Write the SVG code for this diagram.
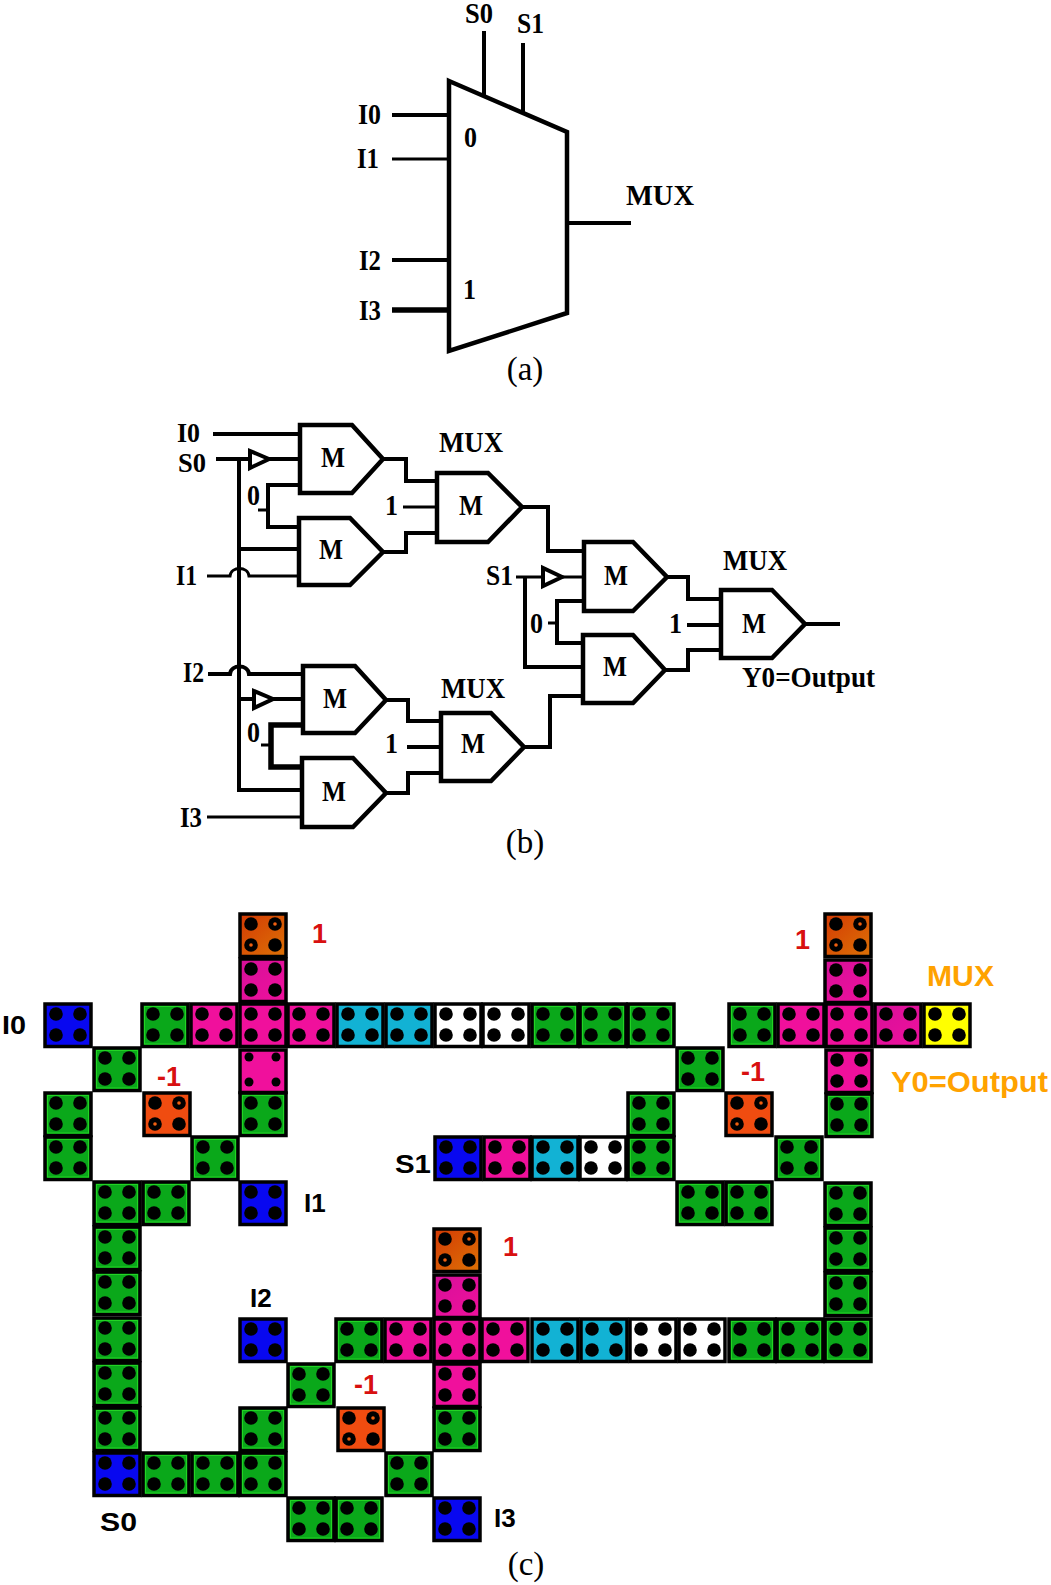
<svg xmlns="http://www.w3.org/2000/svg" width="1051" height="1585" viewBox="0 0 1051 1585">
<style>
text{font-family:"Liberation Serif","Times New Roman",serif;fill:#000}
.b{font-weight:bold;font-size:29px}
.s{font-size:27px}
.m{font-weight:bold;font-size:29px;text-anchor:middle}
.cap{font-size:33px;text-anchor:middle}
.a{font-family:"Liberation Sans",Arial,sans-serif;font-weight:bold;font-size:26px}
.r{font-family:"Liberation Sans",Arial,sans-serif;font-weight:bold;font-size:27px;fill:#d81010}
.o{font-family:"Liberation Sans",Arial,sans-serif;font-weight:bold;font-size:30px;fill:#ffa200}
.w{fill:none;stroke:#000;stroke-width:4;stroke-linecap:butt;stroke-linejoin:miter}
.t{stroke-width:3}.h{stroke-width:5.5}
.g{fill:#fff;stroke:#000;stroke-width:4.5;stroke-linejoin:miter}
.tri{fill:#fff;stroke:#000;stroke-width:4}
.box{stroke:#000;stroke-width:3.5}
</style>
<defs>
<linearGradient id="go" x1="0" y1="0" x2="1" y2="1"><stop offset="0" stop-color="#d43a04"/><stop offset="1" stop-color="#dc7206"/></linearGradient>
<linearGradient id="gm" x1="0" y1="0" x2="1" y2="1"><stop offset="0" stop-color="#d6109a"/><stop offset="1" stop-color="#f0109c"/></linearGradient>
<g id="dots"><circle cx="12" cy="11" r="6.8"/><circle cx="36" cy="11" r="6.8"/><circle cx="12" cy="32" r="6.8"/><circle cx="36" cy="32" r="6.8"/></g>
<g id="dots2"><use href="#dots"/><circle cx="36" cy="11" r="1.8" fill="#f06010"/><circle cx="12" cy="32" r="1.8" fill="#f06010"/></g>
<g id="green"><rect class="box" x="1" y="1" width="46" height="42.5" fill="#0aa81a"/><rect x="3.5" y="3.5" width="41" height="37.5" fill="none" stroke="#22d424" stroke-width="1"/><use href="#dots"/></g>
<g id="blue"><rect class="box" x="1" y="1" width="46" height="42.5" fill="#0808f0"/><use href="#dots"/></g>
<g id="pink"><rect class="box" x="1" y="1" width="46" height="42.5" fill="#f0109c"/><use href="#dots"/></g>
<g id="pinksmall"><rect class="box" x="1" y="1" width="46" height="42.5" fill="#f0109c"/><circle cx="10" cy="8" r="4.5"/><circle cx="37" cy="8" r="4.5"/><circle cx="10" cy="33" r="4.5"/><circle cx="37" cy="33" r="4.5"/></g>
<g id="purple"><rect class="box" x="1" y="1" width="46" height="42.5" fill="url(#gm)"/><use href="#dots"/></g>
<g id="cyan"><rect class="box" x="1" y="1" width="46" height="42.5" fill="#12b2d4"/><use href="#dots"/></g>
<g id="white"><rect class="box" x="1" y="1" width="46" height="42.5" fill="#fff"/><use href="#dots"/></g>
<g id="yellow"><rect class="box" x="1" y="1" width="46" height="42.5" fill="#ffff00"/><use href="#dots"/></g>
<g id="orange"><rect class="box" x="1" y="1" width="46" height="42.5" fill="url(#go)"/><use href="#dots2"/></g>
<g id="orange2"><rect class="box" x="1" y="1" width="46" height="42.5" fill="#f04c10"/><use href="#dots2"/></g>
</defs>

<g id="connectors-a">
<path class="w" d="M484 31V97"/><path class="w" d="M523 43V112"/>
<path class="w" d="M392 115H449"/><path class="w t" d="M392 159H449"/><path class="w" d="M392 260H449"/><path class="w h" d="M392 310H449"/>
<path class="w" d="M567 223H631"/>
</g>
<g id="mux-a"><path d="M449 81L567 132V313L449 351Z" fill="#fff" stroke="#000" stroke-width="4.5"/></g>
<g id="labels-a">
<text class="b" x="465" y="23" textLength="28" lengthAdjust="spacingAndGlyphs">S0</text><text class="b" x="517" y="33" textLength="27" lengthAdjust="spacingAndGlyphs">S1</text>
<text class="b" x="358" y="124" textLength="23" lengthAdjust="spacingAndGlyphs">I0</text><text class="b" x="357" y="168" textLength="22" lengthAdjust="spacingAndGlyphs">I1</text><text class="b" x="359" y="270" textLength="22" lengthAdjust="spacingAndGlyphs">I2</text><text class="b" x="359" y="320" textLength="22" lengthAdjust="spacingAndGlyphs">I3</text>
<text class="b" x="464" y="147" textLength="13" lengthAdjust="spacingAndGlyphs">0</text><text class="b" x="463" y="299" textLength="13" lengthAdjust="spacingAndGlyphs">1</text>
<text class="b" x="626" y="205" textLength="68" lengthAdjust="spacingAndGlyphs">MUX</text>
<text class="cap" x="525" y="380">(a)</text>
</g>

<g id="connectors-b">
<path class="w" d="M213 434H300"/>
<path class="w" d="M216 459H300"/>
<path class="w" d="M239 459V790H302"/>
<path class="w" d="M239 549H299"/>
<path class="w t" d="M207 576H230C231 566 248 566 249 576H299"/>
<path class="w" d="M383 459H406V481H437"/>
<path class="w" d="M383 552H406V533H437"/>
<path class="w t" d="M403 507H437"/>
<path class="w" d="M300 485H268V527H299"/>
<path class="w t" d="M258 510H268"/>
<path class="w" d="M208 674H230C231 664 248 664 249 674H303"/>
<path class="w" d="M239 699H303"/>
<path class="w h" d="M303 725H271V767H302"/>
<path class="w t" d="M261 745H271"/>
<path class="w t" d="M207 817H302"/>
<path class="w" d="M386 700H408V721H441"/>
<path class="w" d="M386 793H408V773H441"/>
<path class="w" d="M407 747H441"/>
<path class="w" d="M522 507H548V551H584"/>
<path class="w t" d="M516 577H584"/>
<path class="w" d="M525 577V667H583"/>
<path class="w" d="M584 601H557V643H583"/>
<path class="w t" d="M548 623H557"/>
<path class="w" d="M524 747H550V696H583"/>
<path class="w" d="M667 577H688V599H721"/>
<path class="w" d="M665 670H688V650H721"/>
<path class="w" d="M687 625H721"/>
<path class="w" d="M805 624H840"/>
</g>
<g id="inverters-b">
<path class="tri" d="M250 451V468L269 459Z"/>
<path class="tri" d="M254 691V708L273 699Z"/>
<path class="tri" d="M543 568V586L562 577Z"/>
</g>
<g id="gate1"><path class="g" d="M300 425H352L383 459L352 493H300Z"/><text class="m" x="333" y="467" textLength="24" lengthAdjust="spacingAndGlyphs">M</text></g>
<g id="gate2"><path class="g" d="M299 518H350L383 552L350 585H299Z"/><text class="m" x="331" y="559" textLength="24" lengthAdjust="spacingAndGlyphs">M</text></g>
<g id="gate3"><path class="g" d="M437 473H488L522 507L488 542H437Z"/><text class="m" x="471" y="515" textLength="24" lengthAdjust="spacingAndGlyphs">M</text></g>
<g id="gate4"><path class="g" d="M303 666H355L386 700L355 733H303Z"/><text class="m" x="335" y="708" textLength="24" lengthAdjust="spacingAndGlyphs">M</text></g>
<g id="gate5"><path class="g" d="M302 758H353L386 793L353 827H302Z"/><text class="m" x="334" y="801" textLength="24" lengthAdjust="spacingAndGlyphs">M</text></g>
<g id="gate6"><path class="g" d="M441 713H491L524 747L491 781H441Z"/><text class="m" x="473" y="753" textLength="24" lengthAdjust="spacingAndGlyphs">M</text></g>
<g id="gate7"><path class="g" d="M584 542H633L667 577L633 611H584Z"/><text class="m" x="616" y="585" textLength="24" lengthAdjust="spacingAndGlyphs">M</text></g>
<g id="gate8"><path class="g" d="M583 635H633L665 670L633 703H583Z"/><text class="m" x="615" y="676" textLength="24" lengthAdjust="spacingAndGlyphs">M</text></g>
<g id="gate9"><path class="g" d="M721 590H772L805 624L772 658H721Z"/><text class="m" x="754" y="633" textLength="24" lengthAdjust="spacingAndGlyphs">M</text></g>
<g id="labels-b">
<text class="b s" x="177" y="442" textLength="23" lengthAdjust="spacingAndGlyphs">I0</text><text class="b s" x="178" y="472" textLength="28" lengthAdjust="spacingAndGlyphs">S0</text><text class="b" x="176" y="585" textLength="21" lengthAdjust="spacingAndGlyphs">I1</text><text class="b" x="183" y="682" textLength="21" lengthAdjust="spacingAndGlyphs">I2</text><text class="b" x="180" y="827" textLength="22" lengthAdjust="spacingAndGlyphs">I3</text>
<text class="b" x="486" y="585" textLength="27" lengthAdjust="spacingAndGlyphs">S1</text>
<text class="b" x="439" y="452" textLength="64" lengthAdjust="spacingAndGlyphs">MUX</text><text class="b" x="441" y="698" textLength="64" lengthAdjust="spacingAndGlyphs">MUX</text><text class="b" x="723" y="570" textLength="64" lengthAdjust="spacingAndGlyphs">MUX</text>
<text class="b" x="247" y="505" textLength="13" lengthAdjust="spacingAndGlyphs">0</text><text class="b" x="247" y="742" textLength="13" lengthAdjust="spacingAndGlyphs">0</text><text class="b" x="530" y="633" textLength="13" lengthAdjust="spacingAndGlyphs">0</text>
<text class="b" x="385" y="515" textLength="13" lengthAdjust="spacingAndGlyphs">1</text><text class="b" x="385" y="753" textLength="13" lengthAdjust="spacingAndGlyphs">1</text><text class="b" x="669" y="633" textLength="13" lengthAdjust="spacingAndGlyphs">1</text>
<text class="b" x="742" y="687" textLength="133" lengthAdjust="spacingAndGlyphs">Y0=Output</text>
<text class="cap" x="525" y="853">(b)</text>
</g>

<g id="cells-top">
<use id="c1" href="#orange" x="239" y="913"/><use id="c2" href="#purple" x="239" y="958"/>
<use id="c3" href="#blue" x="44" y="1003"/><use id="c4" href="#green" x="141" y="1003"/><use id="c5" href="#pink" x="190" y="1003"/><use id="c6" href="#pink" x="239" y="1003"/><use id="c7" href="#pink" x="287" y="1003"/>
<use id="c8" href="#cyan" x="336" y="1003"/><use id="c9" href="#cyan" x="385" y="1003"/><use id="c10" href="#white" x="434" y="1003"/><use id="c11" href="#white" x="482" y="1003"/>
<use id="c12" href="#green" x="531" y="1003"/><use id="c13" href="#green" x="579" y="1003"/><use id="c14" href="#green" x="627" y="1003"/>
<use id="c15" href="#green" x="93" y="1047"/><use id="c16" href="#pinksmall" x="239" y="1049"/>
<use id="c17" href="#green" x="44" y="1092"/><use id="c18" href="#orange2" x="143" y="1092"/><use id="c19" href="#green" x="239" y="1092"/>
<use id="c20" href="#green" x="44" y="1136"/><use id="c21" href="#green" x="191" y="1136"/>
<use id="c22" href="#green" x="93" y="1181"/><use id="c23" href="#green" x="142" y="1181"/><use id="c24" href="#blue" x="239" y="1181"/>
<use id="c25" href="#green" x="627" y="1092"/><use id="c26" href="#green" x="627" y="1136"/>
<use id="c27" href="#blue" x="434" y="1136"/><use id="c28" href="#pink" x="483" y="1136"/><use id="c29" href="#cyan" x="531" y="1136"/><use id="c30" href="#white" x="579" y="1136"/>
<use id="c31" href="#green" x="676" y="1047"/><use id="c32" href="#orange2" x="725" y="1092"/><use id="c33" href="#green" x="775" y="1136"/>
<use id="c34" href="#green" x="676" y="1181"/><use id="c35" href="#green" x="725" y="1181"/>
<use id="c36" href="#orange" x="824" y="913"/><use id="c37" href="#purple" x="824" y="959"/>
<use id="c38" href="#green" x="728" y="1003"/><use id="c39" href="#pink" x="777" y="1003"/><use id="c40" href="#pink" x="825" y="1003"/><use id="c41" href="#purple" x="874" y="1003"/><use id="c42" href="#yellow" x="923" y="1003"/>
<use id="c43" href="#pink" x="825" y="1049"/><use id="c44" href="#green" x="825" y="1093"/>
</g>
<g id="cells-bottom">
<use id="c45" href="#green" x="93" y="1226"/><use id="c46" href="#green" x="93" y="1271"/><use id="c47" href="#green" x="93" y="1317"/><use id="c48" href="#green" x="93" y="1362"/><use id="c49" href="#green" x="93" y="1407"/>
<use id="c50" href="#blue" x="93" y="1452"/><use id="c51" href="#green" x="142" y="1452"/><use id="c52" href="#green" x="191" y="1452"/><use id="c53" href="#green" x="239" y="1452"/><use id="c54" href="#green" x="239" y="1407"/>
<use id="c55" href="#blue" x="239" y="1318"/><use id="c56" href="#green" x="287" y="1363"/><use id="c57" href="#green" x="335" y="1318"/><use id="c58" href="#pink" x="384" y="1318"/><use id="c59" href="#pink" x="433" y="1318"/><use id="c60" href="#pink" x="481" y="1318"/>
<use id="c61" href="#cyan" x="531" y="1318"/><use id="c62" href="#cyan" x="580" y="1318"/><use id="c63" href="#white" x="629" y="1318"/><use id="c64" href="#white" x="678" y="1318"/>
<use id="c65" href="#green" x="728" y="1318"/><use id="c66" href="#green" x="776" y="1318"/><use id="c67" href="#green" x="824" y="1318"/>
<use id="c68" href="#green" x="824" y="1272"/><use id="c69" href="#green" x="824" y="1227"/><use id="c70" href="#green" x="824" y="1182"/>
<use id="c71" href="#orange" x="433" y="1228"/><use id="c72" href="#purple" x="433" y="1274"/><use id="c73" href="#pink" x="433" y="1363"/><use id="c74" href="#green" x="433" y="1407"/>
<use id="c75" href="#orange2" x="337" y="1407"/><use id="c76" href="#green" x="385" y="1452"/><use id="c77" href="#green" x="287" y="1497"/><use id="c78" href="#green" x="335" y="1497"/><use id="c79" href="#blue" x="433" y="1497"/>
</g>
<g id="labels-c">
<text class="a" x="2" y="1034" textLength="24" lengthAdjust="spacingAndGlyphs">I0</text><text class="a" x="304" y="1212">I1</text><text class="a" x="250" y="1307">I2</text><text class="a" x="100" y="1531" textLength="37" lengthAdjust="spacingAndGlyphs">S0</text><text class="a" x="494" y="1527">I3</text><text class="a" x="395" y="1173" textLength="36" lengthAdjust="spacingAndGlyphs">S1</text>
<text class="r" x="312" y="943">1</text><text class="r" x="157" y="1086">-1</text><text class="r" x="503" y="1256">1</text><text class="r" x="354" y="1394">-1</text><text class="r" x="795" y="949">1</text><text class="r" x="741" y="1081">-1</text>
<text class="o" x="927" y="986" textLength="67" lengthAdjust="spacingAndGlyphs">MUX</text><text class="o" x="891" y="1092" textLength="157" lengthAdjust="spacingAndGlyphs">Y0=Output</text>
<text class="cap" x="526" y="1575">(c)</text>
</g>
</svg>
